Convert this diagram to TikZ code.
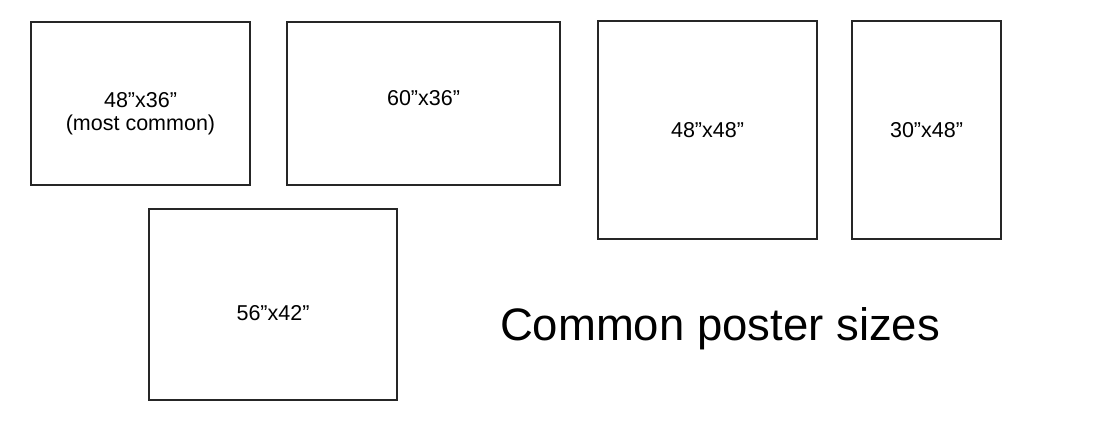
\documentclass[tikz,border=0pt]{standalone}
\usepackage{fontspec}
\setmainfont{Liberation Sans}
\usetikzlibrary{positioning}

\begin{document}
\begin{tikzpicture}[x=1pt,y=-1pt,
    poster/.style={draw=black!85,line width=1.3pt,inner sep=0pt},
    size/.style={align=center,inner sep=0pt,font=\fontsize{21.5}{20.5}\selectfont}]
  \useasboundingbox[fill=white] (0,0) rectangle (1100,433);
  \node[poster,minimum width=219pt,minimum height=163pt,
    label={[size,yshift=-10pt]center:48”x36”\\[2pt](most common)}] (p4836) at (140.5,103.5) {};
  \node[poster,minimum width=273pt,minimum height=163pt,
    label={[size,yshift=5pt]center:60”x36”}] (p6036) at (423.5,103.5) {};
  \node[poster,minimum width=219pt,minimum height=218pt,
    label={[size]center:48”x48”}] (p4848) at (707.5,130) {};
  \node[poster,minimum width=149pt,minimum height=218pt,
    label={[size]center:30”x48”}] (p3048) at (926.5,130) {};
  \node[poster,minimum width=248pt,minimum height=191pt,
    label={[size,yshift=-9pt]center:56”x42”}] (p5642) at (273,304.5) {};
  \node[anchor=base,inner sep=0pt,font=\fontsize{45.5}{50}\selectfont] (title) at (720,340)
    {Common poster sizes};
\end{tikzpicture}
\end{document}
